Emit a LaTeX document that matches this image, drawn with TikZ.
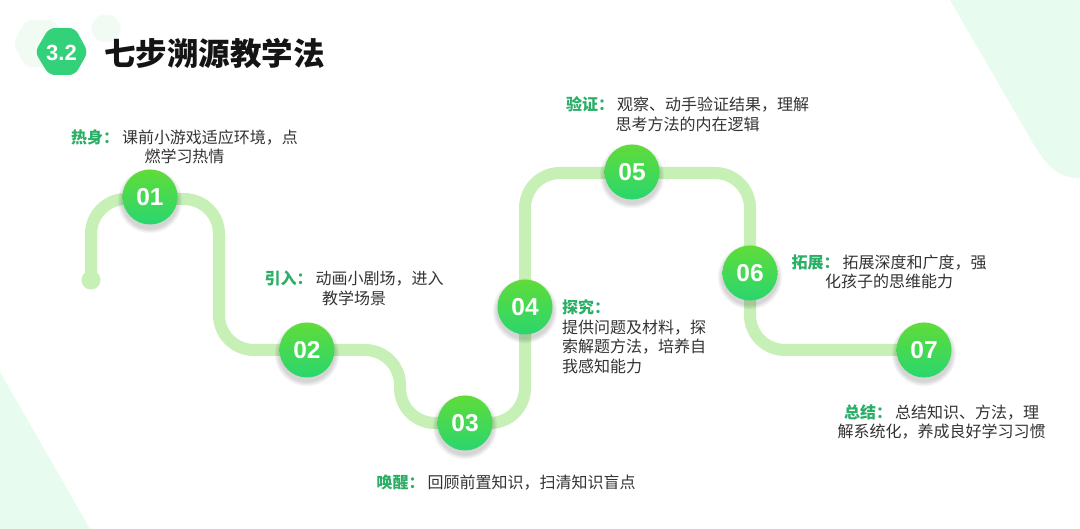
\documentclass[tikz,border=0pt]{standalone}
\usepackage{fontspec}
\usetikzlibrary{calc}
\setmainfont{Noto Sans CJK SC}
\newfontfamily\numfont{Liberation Sans}
\definecolor{track}{HTML}{C6F0B6}
\definecolor{gtop}{HTML}{5FDC3A}
\definecolor{gbot}{HTML}{2AD66E}
\definecolor{lbl}{HTML}{2BAE66}
\definecolor{bodytext}{HTML}{333333}
\definecolor{mint}{HTML}{E8FBEF}
\definecolor{badge}{HTML}{33D17A}
\definecolor{hexbg}{HTML}{F1FBF4}
\newcommand\steplbl[1]{{\color{lbl}\bfseries #1：}\hspace{3pt}}
\begin{document}
\begin{tikzpicture}[x=1pt,y=-1pt,
  numcirc/.style={circle,minimum size=55pt,inner sep=0,top color=gtop,bottom color=gbot,
    text=white,font=\fontsize{24.5}{24.5}\numfont\bfseries},
  lab/.style={font=\fontsize{16}{19.5}\selectfont,text=bodytext,align=center,inner sep=0},
  tracksty/.style={draw=track,line width=12pt,rounded corners=35pt}]
\useasboundingbox[fill=white] (0,0) rectangle (1080,529);
% background shapes
\fill[mint] (950,0) -- (1030,138) .. controls (1048,170) and (1060,178) .. (1080,178) -- (1080,0) -- cycle;
\fill[mint] (0,372) -- (90,529) -- (0,529) -- cycle;
% title
\fill[hexbg,rounded corners=6pt] (13,44) -- (26,20) -- (54,20) -- (67,44) -- (54,67) -- (26,67) -- cycle;
\fill[hexbg,rounded corners=4pt] (90,28) -- (98,15) -- (114,15) -- (122,28) -- (114,42) -- (98,42) -- cycle;
\fill[badge,rounded corners=6pt] (35,52) -- (49,28) -- (75,28) -- (88,52) -- (75,75) -- (49,75) -- cycle;
\node[text=white,font=\fontsize{22}{22}\numfont\bfseries] (badgetxt) at (61.5,52.5) {3.2};
\node[anchor=west,inner sep=0,font=\fontsize{31.5}{31.5}\selectfont\bfseries,text=black!92] (title) at (104,53) {七步溯源教学法};
% track
\coordinate (s) at (91,280);
\coordinate (p01) at (150,197);
\coordinate (p02) at (307,350);
\coordinate (p03) at (465,423);
\coordinate (p04) at (525,307);
\coordinate (p05) at (632,172);
\coordinate (p06) at (750,273);
\coordinate (p07) at (924,350);
\draw[tracksty] (s) -- (91,199) -- (219,199) -- (219,350) -- (400,350) -- (400,423) -- (525,423) -- (525,173) -- (750,173) -- (750,350) -- (p07);
\fill[track] (s) circle (9.5pt);
% circles with soft shadows
\foreach \n in {01,02,03,04,05,06,07}{
  \foreach \k in {1,...,7}{
    \fill[black,opacity=0.025] ($(p\n)+(0,4)$) circle ({27.5+\k*0.7});
  }
  \node[numcirc] (c\n) at (p\n) {\n};
}
% labels
\node[lab] (l1) at (184.5,147) {\steplbl{热身}课前小游戏适应环境，点\\燃学习热情};
\node[lab] (l2) at (354,288.5) {\steplbl{引入}动画小剧场，进入\\教学场景};
\node[lab] (l3) at (506,483) {\steplbl{唤醒}回顾前置知识，扫清知识盲点};
\node[lab] (l5) at (687.5,114) {\steplbl{验证}观察、动手验证结果，理解\\思考方法的内在逻辑};
\node[lab,align=left,anchor=west] (l4) at (562,336.5) {{\color{lbl}\bfseries 探究：}\\提供问题及材料，探\\索解题方法，培养自\\我感知能力};
\node[lab] (l6) at (889,272) {\steplbl{拓展}拓展深度和广度，强\\化孩子的思维能力};
\node[lab] (l7) at (941.5,422) {\steplbl{总结}总结知识、方法，理\\解系统化，养成良好学习习惯};
\end{tikzpicture}
\end{document}
